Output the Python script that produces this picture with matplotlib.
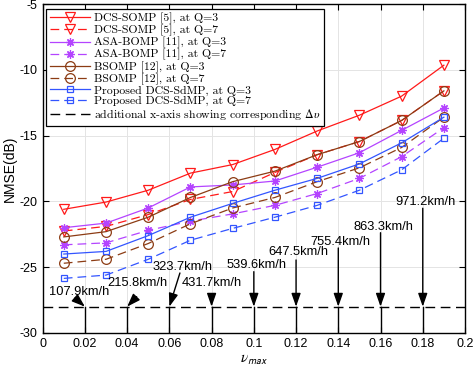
import matplotlib
matplotlib.use("Agg")
import matplotlib.pyplot as plt
import numpy as np

# ---- data ----
nu_max = [0.01, 0.03, 0.05, 0.07, 0.09, 0.11, 0.13, 0.15, 0.17, 0.19]
dcs_somp_q3 = [-20.6, -20.05, -19.15, -17.85, -17.2, -16.05, -14.65, -13.45, -12.0, -9.65]
dcs_somp_q7 = [-22.25, -21.9, -21.0, -19.85, -19.25, -17.8, -16.45, -15.45, -13.85, -11.6]
asa_bomp_q3 = [-22.0, -21.65, -20.5, -18.9, -18.75, -18.45, -17.4, -16.3, -14.6, -12.9]
asa_bomp_q7 = [-23.3, -23.15, -22.2, -21.5, -20.95, -20.3, -19.4, -18.25, -16.6, -14.4]
bsomp_q3 = [-22.7, -22.3, -21.2, -19.7, -18.5, -17.7, -16.45, -15.45, -13.85, -11.6]
bsomp_q7 = [-24.7, -24.4, -23.2, -21.7, -20.5, -19.7, -18.5, -17.45, -15.9, -13.6]
sdmp_q3 = [-24.0, -23.8, -22.6, -21.2, -20.15, -19.15, -18.25, -17.15, -15.55, -13.6]
sdmp_q7 = [-25.85, -25.6, -24.4, -22.95, -22.05, -21.2, -20.3, -19.15, -17.6, -15.2]

aux_axis_level = -28
speed_nu = [0.02, 0.04, 0.06, 0.08, 0.10, 0.12, 0.14, 0.16, 0.18]
speed_labels = ["107.9km/h", "215.8km/h", "323.7km/h", "431.7km/h", "539.6km/h",
                "647.5km/h", "755.4km/h", "863.3km/h", "971.2km/h"]

x_ticks = [0, 0.02, 0.04, 0.06, 0.08, 0.1, 0.12, 0.14, 0.16, 0.18, 0.2]
x_ticklabels = ["0", "0.02", "0.04", "0.06", "0.08", "0.1", "0.12", "0.14", "0.16", "0.18", "0.2"]
y_ticks = [-30, -25, -20, -15, -10, -5]

# ---- layout (text label and arrow tail positions) ----
label_pos = [(0.0172, -26.86), (0.0449, -26.22), (0.0664, -24.96), (0.0802, -26.22),
             (0.1012, -24.83), (0.1209, -23.87), (0.1411, -23.06), (0.1612, -21.97),
             (0.1814, -20.07)]
tail_pos = [(0.0153, -27.34), (0.0445, -27.24), (0.065, -25.44), (0.08, -27.1),
            (0.10, -25.34), (0.12, -24.45), (0.14, -23.54), (0.16, -22.38),
            (0.18, -20.52)]

plt.rcParams['axes.unicode_minus'] = False
plt.rcParams['mathtext.fontset'] = 'stix'
plt.rcParams['font.family'] = ['Liberation Sans', 'DejaVu Sans']

fig = plt.figure(figsize=(4.74, 3.79), dpi=100)
ax = fig.add_axes([0.090, 0.1214, 0.891, 0.868])

RED = '#ff1a1a'
PUR = '#b444ff'
BRN = '#8c3c14'
BLU = '#3355ff'
lw = 0.9
dash = (0, (7, 4))
star = (8, 2, 0)

ax.plot(nu_max, dcs_somp_q3, color=RED, lw=lw, ls='-', marker='v', ms=7, mfc='none', mew=0.9,
        label='DCS-SOMP [5], at Q=3')
ax.plot(nu_max, dcs_somp_q7, color=RED, lw=lw, ls=dash, marker='v', ms=7, mfc='none', mew=0.9,
        label='DCS-SOMP [5], at Q=7')
ax.plot(nu_max, asa_bomp_q3, color=PUR, lw=lw, ls='-', marker=star, ms=6, mew=0.9,
        label='ASA-BOMP [11], at Q=3')
ax.plot(nu_max, asa_bomp_q7, color=PUR, lw=lw, ls=dash, marker=star, ms=6, mew=0.9,
        label='ASA-BOMP [11], at Q=7')
ax.plot(nu_max, bsomp_q3, color=BRN, lw=lw, ls='-', marker='o', ms=7, mfc='none', mew=0.9,
        label='BSOMP [12], at Q=3')
ax.plot(nu_max, bsomp_q7, color=BRN, lw=lw, ls=dash, marker='o', ms=7, mfc='none', mew=0.9,
        label='BSOMP [12], at Q=7')
ax.plot(nu_max, sdmp_q3, color=BLU, lw=lw, ls='-', marker='s', ms=4.8, mfc='none', mew=0.9,
        label='Proposed DCS-SdMP, at Q=3')
ax.plot(nu_max, sdmp_q7, color=BLU, lw=lw, ls=dash, marker='s', ms=4.8, mfc='none', mew=0.9,
        label='Proposed DCS-SdMP, at Q=7')
ax.axhline(aux_axis_level, color='black', lw=1.0, ls=(0, (7, 4)),
           label=r'additional x-axis showing corresponding $\Delta\upsilon$')

for xv in speed_nu:
    ax.plot([xv, xv], [aux_axis_level, -30], color='black', lw=1.0)

for lab, xv, lp, tp in zip(speed_labels, speed_nu, label_pos, tail_pos):
    ax.text(lp[0], lp[1], lab, ha='center', va='center', fontsize=9.3, color='black')
    ax.annotate('', xy=(xv, aux_axis_level), xytext=tp,
                arrowprops=dict(arrowstyle='-|>,head_length=0.8,head_width=0.28',
                                color='black', lw=1.0, shrinkA=0, shrinkB=0))

ax.set_xlim(0, 0.2)
ax.set_ylim(-30, -5)
ax.set_xticks(x_ticks)
ax.set_xticklabels(x_ticklabels)
ax.set_yticks(y_ticks)
ax.tick_params(direction='in', top=True, right=True, length=4, width=0.8, labelsize=9)
ax.grid(True, color='#e4e4e4', lw=0.7)
ax.set_axisbelow(True)
for s in ax.spines.values():
    s.set_linewidth(1.0)

ax.set_xlabel(r'$\nu_{\mathsf{max}}$', fontsize=11, labelpad=2)
ax.set_ylabel('NMSE(dB)', fontsize=10, labelpad=2)

leg = ax.legend(loc='upper left', bbox_to_anchor=(0.008, 0.985),
                prop={'family': 'cmr10', 'size': 8.5}, frameon=True, fancybox=False,
                edgecolor='black', framealpha=1, handlelength=3.4, handletextpad=0.35,
                borderpad=0.3, labelspacing=0.06, borderaxespad=0, handleheight=0.6)
leg.get_frame().set_linewidth(0.9)

fig.savefig('out.png', dpi=100)
